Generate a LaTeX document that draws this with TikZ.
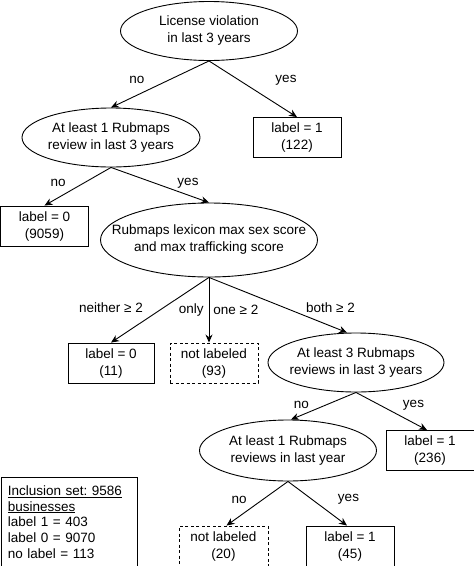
\documentclass[tikz,border=0pt]{standalone}
\usepackage{fontspec}
\setmainfont{Liberation Sans}
\usetikzlibrary{shapes.geometric, arrows.meta}
\frenchspacing

\begin{document}
\begin{tikzpicture}[x=1pt, y=-1pt, line width=0.9pt,
    every node/.style={font=\fontsize{13.5}{17}\selectfont, align=center, inner sep=0pt},
    cond/.style={ellipse, draw, inner xsep=-40pt, minimum width=177pt, minimum height=59pt},
    leaf/.style={rectangle, draw, minimum width=88pt, minimum height=40pt},
    open/.style={leaf, dash pattern=on 3pt off 2.5pt},
    arr/.style={-{Stealth[length=8pt, width=7pt]}}]

        \useasboundingbox (0,0) rectangle (474,566);

        \node[cond] (root) at (209,31) {License violation\\in last 3 years};
        \node[cond, minimum width=178pt] (rev3y) at (111,137.5) {At least 1 Rubmaps\\review in last 3 years};
        \node[leaf] (yes1) at (297,137.5) {label = 1\\(122)};
        \node[leaf] (no0) at (44.5,226) {label = 0\\(9059)};
        \node[cond, minimum width=217pt, minimum height=74pt] (lex) at (209,240) {Rubmaps lexicon max sex score\\and max trafficking score};
        \node[leaf, minimum width=86pt] (neither) at (111,363) {label = 0\\(11)};
        \node[open] (only) at (214,363) {not labeled\\(93)};
        \node[cond, minimum width=176pt] (rev3) at (356,362.5) {At least 3 Rubmaps\\reviews in last 3 years};
        \node[leaf] (yes236) at (430,450.5) {label = 1\\(236)};
        \node[cond, minimum height=61pt] (rev1) at (288,450.5) {At least 1 Rubmaps\\reviews in last year};
        \node[open, minimum width=89pt] (nolab) at (223.5,546) {not labeled\\(20)};
        \node[leaf] (yes45) at (350,546) {label = 1\\(45)};

        \node[draw, anchor=north west, minimum width=136pt, minimum height=89pt, text width=122pt,
              align=left, inner sep=7pt, font=\fontsize{13.5}{15.7}\selectfont] (incl) at (0.5,477)
            {\underline{Inclusion set: 9586}\\\underline{businesses}\\label 1 = 403\\label 0 = 9070\\no label = 113};

        \draw[arr] (root.south) -- node[xshift=-23pt, yshift=4pt] {no} (rev3y.north);
        \draw[arr] (root.south) -- node[xshift=33pt, yshift=9pt] {yes} (yes1.north);
        \draw[arr] (rev3y.south) -- node[xshift=-19.5pt, yshift=3.5pt] {no} (no0.north);
        \draw[arr] (rev3y.south) -- node[xshift=28pt, yshift=2pt] {yes} (lex.north);
        \draw[arr] (lex.south) -- node[xshift=-49pt, yshift=2pt] {neither ≥ 2} (neither.north);
        \draw[arr] (lex.south) -- node[left=5pt] {only} node[right=4pt] {one ≥ 2} (lex.south |- only.north);
        \draw[arr] (lex.south) -- node[xshift=52.5pt, yshift=-3pt] {both ≥ 2} ([xshift=-9pt]rev3.north);
        \draw[arr] (rev3.south) -- node[xshift=-22pt, yshift=1pt] {no} ([xshift=3pt]rev1.north);
        \draw[arr] (rev3.south) -- node[xshift=22pt, yshift=6pt] {yes} ([xshift=-3pt]yes236.north);
        \draw[arr] (rev1.south) -- node[xshift=-18pt, yshift=4pt] {no} ([xshift=3pt]nolab.north);
        \draw[arr] (rev1.south) -- node[xshift=31pt, yshift=4pt] {yes} ([xshift=-3pt]yes45.north);

\end{tikzpicture}
\end{document}
